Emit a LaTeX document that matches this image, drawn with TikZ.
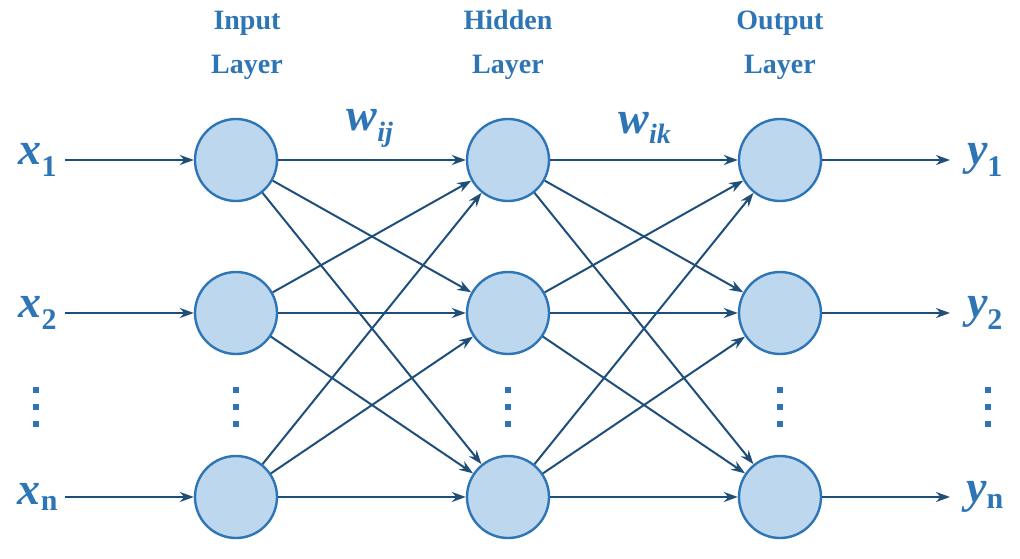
\documentclass[tikz,border=0pt]{standalone}
\usepackage{fontspec}
\setmainfont{Liberation Serif}
\usetikzlibrary{arrows.meta}
\definecolor{cfill}{HTML}{BDD7EE}
\definecolor{cline}{HTML}{2E75B6}
\definecolor{carr}{HTML}{1F4E79}
\begin{document}
\begin{tikzpicture}[x=1pt,y=-1pt,
  neuron/.style={circle,draw=cline,fill=cfill,line width=2.4pt,minimum size=82pt,inner sep=0pt},
  conn/.style={draw=carr,line width=2pt,-{Stealth[length=14pt,width=10pt]}},
  lbl/.style={text=cline,font=\bfseries\fontsize{28}{44}\selectfont,align=center},
  var/.style={text=cline,font=\bfseries\itshape\fontsize{46}{48}\selectfont},
  dot/.style={fill=cline,minimum size=6pt,inner sep=0pt,rectangle}]
\useasboundingbox (0,0) rectangle (1020,559);
\foreach \n/\x in {i/236,h/508,o/780,xx/36,yy/988}{
  \node[dot] (\n da) at (\x,390) {};
  \node[dot] (\n db) at (\x,407) {};
  \node[dot] (\n dc) at (\x,424) {};
}
\foreach \n/\x in {i/236,h/508,o/780}{
  \node[neuron] (\n1) at (\x,160) {};
  \node[neuron] (\n2) at (\x,313) {};
  \node[neuron] (\n3) at (\x,497) {};
}
\node[lbl] (li) at (247,45) {Input\\Layer};
\node[lbl] (lh) at (508,45) {Hidden\\Layer};
\node[lbl] (lo) at (780,45) {Output\\Layer};
\node[var] (wij) at (370,128) {w\textsubscript{\fontsize{28}{28}\selectfont ij}};
\node[var] (wik) at (645,128) {w\textsubscript{\fontsize{28}{28}\selectfont ik}};
\node[var] (x1) at (38,160) {x\textsubscript{\upshape\fontsize{30}{30}\selectfont 1}};
\node[var] (x2) at (38,313) {x\textsubscript{\upshape\fontsize{30}{30}\selectfont 2}};
\node[var] (x3) at (38,497) {x\textsubscript{\upshape\fontsize{30}{30}\selectfont n}};
\node[var] (y1) at (985,160) {y\textsubscript{\upshape\fontsize{30}{30}\selectfont 1}};
\node[var] (y2) at (985,313) {y\textsubscript{\upshape\fontsize{30}{30}\selectfont 2}};
\node[var] (y3) at (985,497) {y\textsubscript{\upshape\fontsize{30}{30}\selectfont n}};
\foreach \r/\yy in {1/160,2/313,3/497}{
  \coordinate (s\r) at (65,\yy);
  \coordinate (e\r) at (950,\yy);
  \draw[conn] (s\r) -- (i\r);
  \draw[conn] (o\r) -- (e\r);
}
\foreach \a in {1,2,3}{\foreach \b in {1,2,3}{
  \draw[conn] (i\a) -- (h\b);
  \draw[conn] (h\a) -- (o\b);
}}
\end{tikzpicture}
\end{document}
